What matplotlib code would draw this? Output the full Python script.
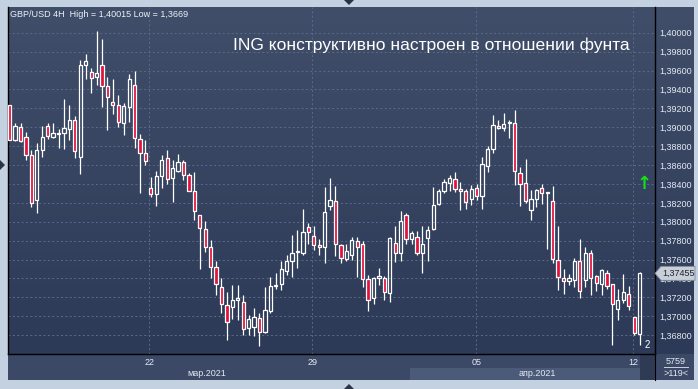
import numpy as np
import matplotlib
matplotlib.use("Agg")
import matplotlib.pyplot as plt
from matplotlib.patches import Rectangle, Polygon
from matplotlib.colors import LinearSegmentedColormap
from matplotlib.lines import Line2D

plt.rcParams["font.family"] = ["Liberation Sans", "DejaVu Sans"]

# GBP/USD 4H свечи (open, high, low, close)
opens = [1.3923, 1.3886, 1.3900, 1.3890, 1.3871, 1.3823, 1.3876, 1.3901, 1.3890, 1.3893,
         1.3894, 1.3898, 1.3908, 1.3869, 1.3966, 1.3958, 1.3953, 1.3966, 1.3944, 1.3927,
         1.3924, 1.3905, 1.3921, 1.3945, 1.3888, 1.3873, 1.3836, 1.3829, 1.3848, 1.3867,
         1.3846, 1.3854, 1.3863, 1.3849, 1.3833, 1.3807, 1.3792, 1.3773, 1.3752, 1.3731,
         1.3712, 1.3710, 1.3717, 1.3715, 1.3688, 1.3689, 1.3698, 1.3683, 1.3706, 1.3732,
         1.3734, 1.3748, 1.3758, 1.3768, 1.3767, 1.3794, 1.3785, 1.3775, 1.3773, 1.3817,
         1.3822, 1.3775, 1.3761, 1.3765, 1.3780, 1.3777, 1.3739, 1.3719, 1.3740, 1.3741,
         1.3725, 1.3778, 1.3767, 1.3807, 1.3782, 1.3784, 1.3767, 1.3783, 1.3792, 1.3819,
         1.3833, 1.3841, 1.3845, 1.3835, 1.3833, 1.3824, 1.3836, 1.3827, 1.3859, 1.3877,
         1.3901, 1.3899, 1.3905, 1.3905, 1.3852, 1.3841, 1.3812, 1.3824, 1.3836, 1.3831,
         1.3822, 1.3760, 1.3741, 1.3737, 1.3738, 1.3759, 1.3738, 1.3767, 1.3743, 1.3734,
         1.3746, 1.3734, 1.3708, 1.3717, 1.3724, 1.3699, 1.3681]
highs = [1.3924, 1.3905, 1.3904, 1.3895, 1.3876, 1.3883, 1.3901, 1.3904, 1.3905, 1.3898,
         1.3930, 1.3924, 1.3912, 1.3971, 1.3977, 1.3963, 1.40015, 1.3993, 1.3953, 1.3951,
         1.3934, 1.3926, 1.3956, 1.3960, 1.3893, 1.3886, 1.3847, 1.3854, 1.3871, 1.3876,
         1.3865, 1.3872, 1.3865, 1.3852, 1.3853, 1.3807, 1.3801, 1.3781, 1.3758, 1.3740,
         1.3726, 1.3733, 1.3733, 1.3722, 1.3701, 1.3709, 1.3704, 1.3731, 1.3742, 1.3746,
         1.3758, 1.3765, 1.3786, 1.3791, 1.3813, 1.3799, 1.3796, 1.3782, 1.3837, 1.3846,
         1.3838, 1.3777, 1.3777, 1.3784, 1.3784, 1.3780, 1.3744, 1.3742, 1.3751, 1.3743,
         1.3784, 1.3795, 1.3811, 1.3809, 1.3790, 1.3790, 1.3796, 1.3796, 1.3837, 1.3835,
         1.3845, 1.3849, 1.3853, 1.3842, 1.3835, 1.3839, 1.3840, 1.3869, 1.3880, 1.3913,
         1.3908, 1.3915, 1.3908, 1.3918, 1.3858, 1.3866, 1.3834, 1.3835, 1.3840, 1.3831,
         1.3838, 1.3795, 1.3750, 1.3745, 1.3762, 1.3782, 1.3773, 1.3770, 1.3744, 1.3750,
         1.3749, 1.3734, 1.3729, 1.3745, 1.3732, 1.3699, 1.37465]
lows = [1.3886, 1.3885, 1.3884, 1.3865, 1.3816, 1.3809, 1.3869, 1.3888, 1.3889, 1.3878,
        1.3877, 1.3886, 1.3867, 1.3851, 1.3951, 1.3936, 1.3945, 1.3921, 1.3897, 1.3914,
        1.3900, 1.3892, 1.3906, 1.3878, 1.3830, 1.3860, 1.3826, 1.3817, 1.3836, 1.3840,
        1.3821, 1.3853, 1.3844, 1.3833, 1.3802, 1.3750, 1.3768, 1.3740, 1.3722, 1.3704,
        1.3675, 1.3697, 1.3696, 1.3680, 1.3680, 1.3679, 1.3669, 1.3682, 1.3704, 1.3729,
        1.3728, 1.3744, 1.3742, 1.3751, 1.3765, 1.3776, 1.3770, 1.3765, 1.3756, 1.3812,
        1.3764, 1.3756, 1.3759, 1.3760, 1.3742, 1.3731, 1.3706, 1.3713, 1.3733, 1.3717,
        1.3715, 1.3757, 1.3759, 1.3776, 1.3776, 1.3765, 1.3746, 1.3758, 1.3791, 1.3818,
        1.3830, 1.3833, 1.3832, 1.3812, 1.3813, 1.3818, 1.3823, 1.3813, 1.3853, 1.3873,
        1.3898, 1.3896, 1.3889, 1.3839, 1.3817, 1.3820, 1.3802, 1.3816, 1.3819, 1.3771,
        1.3756, 1.3728, 1.3724, 1.3733, 1.3731, 1.3719, 1.3731, 1.3723, 1.3727, 1.3722,
        1.3729, 1.3670, 1.3696, 1.3714, 1.3707, 1.3680, 1.3670]
closes = [1.3887, 1.3901, 1.3885, 1.3871, 1.3820, 1.3876, 1.3890, 1.3891, 1.3894, 1.3894,
          1.3899, 1.3908, 1.3875, 1.3966, 1.3970, 1.3952, 1.3957, 1.3944, 1.3932, 1.3924,
          1.3906, 1.3922, 1.3951, 1.3889, 1.3873, 1.3864, 1.3829, 1.3848, 1.3865, 1.3845,
          1.3857, 1.3863, 1.3849, 1.3833, 1.3811, 1.3793, 1.3773, 1.3752, 1.3734, 1.3713,
          1.3694, 1.3717, 1.3719, 1.3687, 1.3697, 1.3699, 1.3683, 1.3707, 1.3732, 1.3733,
          1.3750, 1.3758, 1.3767, 1.3769, 1.3789, 1.3789, 1.3775, 1.3773, 1.3810, 1.3823,
          1.3777, 1.3762, 1.3769, 1.3781, 1.3773, 1.3739, 1.3717, 1.3741, 1.3743, 1.3726,
          1.3783, 1.3767, 1.3801, 1.3782, 1.3788, 1.3767, 1.3776, 1.3791, 1.3818, 1.3833,
          1.3842, 1.3846, 1.3835, 1.3833, 1.3821, 1.3835, 1.3827, 1.3861, 1.3877, 1.3902,
          1.3899, 1.3903, 1.3906, 1.3854, 1.3840, 1.3822, 1.3824, 1.3834, 1.3830, 1.3830,
          1.3761, 1.3742, 1.3737, 1.3741, 1.3759, 1.3727, 1.3767, 1.3741, 1.3735, 1.3749,
          1.3732, 1.3713, 1.3717, 1.3726, 1.3711, 1.3682, 1.37455]

price_levels = [1.368, 1.370, 1.372, 1.374, 1.376, 1.378, 1.380, 1.382, 1.384,
                1.386, 1.388, 1.390, 1.392, 1.394, 1.396, 1.398, 1.400]
day_labels = ["22", "29", "05", "12"]
day_pos = [25.7, 55.7, 85.9, 114.8]
month_labels = ["мар.2021", "апр.2021"]
month_pos = [36.3, 97.1]
last_price = 1.37455

W, H = 698, 389
fig = plt.figure(figsize=(W / 100, H / 100), dpi=100)
fig.patch.set_facecolor("#c3d1e1")


def box(x0, y0, x1, y1):
    return [x0 / W, 1 - y1 / H, (x1 - x0) / W, (y1 - y0) / H]


def fx(x):
    return x / W


def fy(y):
    return 1 - y / H


ax_r = fig.add_axes(box(655, 7, 694, 354))
ax_b = fig.add_axes(box(8, 354, 655, 380))
ax_c = fig.add_axes(box(655, 354, 694, 380))
ax = fig.add_axes(box(8, 7, 655, 354))
ax.set_zorder(3)

cm = LinearSegmentedColormap.from_list("bg", ["#404e6a", "#2c3a57"])
grad = np.linspace(0, 1, 256).reshape(-1, 1)
for a in (ax, ax_r):
    a.imshow(grad, cmap=cm, aspect="auto", extent=[0, 1, 0, 1],
             transform=a.transAxes, zorder=0)

xmin, xmax = -0.31, 118.84
ymin, ymax = 1.36601, 1.40272

# сетка
for lv in price_levels:
    ax.axhline(lv, color="#5a6a8a", lw=0.7, ls=(0, (2, 2.5)), zorder=1)
for d in day_pos:
    ax.axvline(d, color="#5a6a8a", lw=0.7, ls=(0, (2, 2.5)), zorder=1)

# свечи
w = 0.6
for i in range(len(opens)):
    o, hi, lo, c = opens[i], highs[i], lows[i], closes[i]
    top = max(o, c)
    bot = min(o, c)
    if top - bot < 0.00005:
        top = top + 0.00003
        bot = bot - 0.00002
    ax.plot([i, i], [top, hi], color="white", lw=0.9, zorder=2, solid_capstyle="butt")
    ax.plot([i, i], [lo, bot], color="white", lw=0.9, zorder=2, solid_capstyle="butt")
    fc = "#e3123d" if c < o else "none"
    ax.add_patch(Rectangle((i - w / 2, bot), w, top - bot, facecolor=fc,
                           edgecolor="white", lw=0.9, zorder=3))

ax.set_xlim(xmin, xmax)
ax.set_ylim(ymin, ymax)
ax.set_xticks([])
ax.yaxis.tick_right()
ax.set_yticks(price_levels)
ax.set_yticklabels([f"{v:.5f}".replace(".", ",") for v in price_levels])
ax.tick_params(axis="y", length=0, pad=3, labelsize=6.5, labelcolor="#e4eaf2")
ax.spines["top"].set_visible(False)
for s in ["left", "right", "bottom"]:
    ax.spines[s].set_color("black")
    ax.spines[s].set_linewidth(1)

ax.text(0.003, 0.977, "GBP/USD 4H  High = 1,40015 Low = 1,3669", transform=ax.transAxes,
        fontsize=6.5, color="#eef2f7", ha="left", va="center", zorder=5)
ax.text(0.348, 0.89, "ING конструктивно настроен в отношении фунта", transform=ax.transAxes,
        fontsize=12.6, color="white", ha="left", va="center", zorder=5)
ax.text(0.988, 0.012, "2", transform=ax.transAxes, fontsize=7, color="white",
        ha="center", va="bottom", zorder=5)
ax.text(116.8, 1.3840, "↑", family="DejaVu Sans", fontweight="bold", fontsize=13,
        color="#18e018", ha="center", va="center", zorder=5)

for a in (ax_r, ax_b, ax_c):
    a.set_xticks([])
    a.set_yticks([])
    for s in a.spines.values():
        s.set_visible(False)
ax_r.set_xlim(0, 1)
ax_r.set_ylim(0, 1)

# нижняя шкала
ax_b.set_facecolor("#3b4967")
ax_b.set_xlim(xmin, xmax)
ax_b.set_ylim(0, 1)
ax_b.axvspan(73.7, 116.1, ymin=0, ymax=0.47, color="#4b5a79", lw=0)
ax_b.axvspan(116.1, xmax, ymin=0, ymax=1, color="#2f3b55", lw=0)
for d, lab in zip(day_pos, day_labels):
    ax_b.text(d, 0.66, lab, fontsize=6.5, color="#e4eaf2", ha="center", va="center")
for m, lab in zip(month_pos, month_labels):
    ax_b.text(m, 0.25, lab, fontsize=6.5, color="#e4eaf2", ha="center", va="center")

ax_c.set_facecolor("#3b4967")
ax_c.spines["left"].set_visible(True)
ax_c.spines["left"].set_color("black")
fig.text(fx(676), fy(361), "5759", fontsize=6.5, color="#e4eaf2", ha="center", va="center")
fig.lines.append(Line2D([fx(664), fx(688)], [fy(367), fy(367)], color="#c8d2de", lw=0.7,
                        transform=fig.transFigure))
fig.text(fx(676), fy(374), ">119<", fontsize=6.5, color="#e4eaf2", ha="center", va="center")

# метка последней цены
yl = 32.7 + (1.40 - last_price) * 9455
pts = [(655, yl), (661, yl - 7), (695, yl - 7), (695, yl + 7), (661, yl + 7)]
fig.patches.append(Polygon([(fx(x), fy(y)) for x, y in pts], closed=True,
                           facecolor="#c9cfd7", edgecolor="#7d8899", lw=0.6,
                           transform=fig.transFigure, zorder=10))
fig.text(fx(662), fy(yl), f"{last_price:.5f}".replace(".", ","), fontsize=6.5,
         color="#1c2434", ha="left", va="center", zorder=11)

# маленькие треугольники по краям
for tri in ([(344, 0), (354, 0), (349, 5)], [(344, 389), (354, 389), (349, 384)],
            [(0, 160), (0, 170), (5, 165)]):
    fig.patches.append(Polygon([(fx(x), fy(y)) for x, y in tri], closed=True,
                               facecolor="#2a3346", lw=0, transform=fig.transFigure,
                               zorder=10))

fig.savefig("out.png", dpi=100, facecolor=fig.get_facecolor())
